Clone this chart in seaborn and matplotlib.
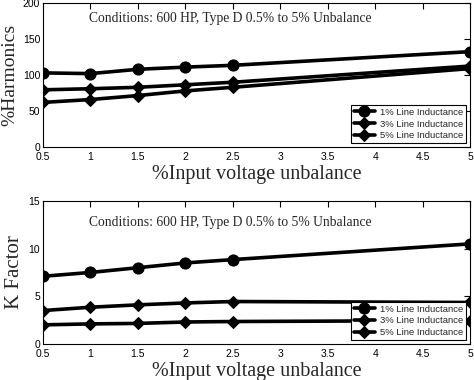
import numpy as np
import pandas as pd
import matplotlib
matplotlib.use('Agg')
import matplotlib.pyplot as plt
import seaborn as sns

# data
unbalance = [0.5, 1, 1.5, 2, 2.5, 5]
labels = ['1% Line Inductance', '3% Line Inductance', '5% Line Inductance']
harm_1 = [103, 102, 108, 111, 113.5, 132.5]
harm_3 = [79.5, 81, 83, 86.5, 90, 112.5]
harm_5 = [62, 66, 71.5, 78, 83, 109]
kf_1 = [7.1, 7.5, 8.0, 8.5, 8.85, 10.5]
kf_3 = [3.5, 3.85, 4.1, 4.3, 4.45, 4.35]
kf_5 = [2.0, 2.1, 2.15, 2.3, 2.35, 2.45]
xticks = [0.5, 1, 1.5, 2, 2.5, 3, 3.5, 4, 4.5, 5]
note = 'Conditions: 600 HP, Type D 0.5% to 5% Unbalance'

sns.set_style('white')
plt.rcParams['font.family'] = ['Liberation Sans', 'DejaVu Sans']

fig = plt.figure(figsize=(4.74, 3.8), dpi=100)
ax1 = fig.add_axes([0.0907, 0.613, 0.901, 0.379])
ax2 = fig.add_axes([0.0907, 0.095, 0.901, 0.376])

markers = ['o', 'D', 'D']
msizes = [8, 6, 6]


def draw(ax, series, ylim, yticks, ylabel, note_y, ysize):
    for vals, lab, m, ms in zip(series, labels, markers, msizes):
        df = pd.DataFrame({'x': unbalance, 'y': vals})
        sns.lineplot(data=df, x='x', y='y', ax=ax, color='black', lw=2.6,
                     marker=m, markersize=ms, markeredgecolor='black', label=lab)
    ax.set_xlim(0.5, 5)
    ax.set_ylim(*ylim)
    ax.set_xticks(xticks)
    ax.set_xticklabels([f'{t:g}' for t in xticks])
    ax.set_yticks(yticks)
    ax.tick_params(direction='in', top=True, right=True, labelsize=7.5,
                   length=4, width=0.8, colors='black')
    ax.tick_params(axis='x', pad=3.5)
    ax.tick_params(axis='y', pad=2)
    for s in ax.spines.values():
        s.set_color('black')
        s.set_linewidth(0.8)
    ax.set_xlabel('%Input voltage unbalance', family='Liberation Serif',
                  fontsize=14.5, labelpad=2)
    ax.set_ylabel(ylabel, family='Liberation Serif', fontsize=ysize, labelpad=3)
    ax.text(0.108, note_y, note, transform=ax.transAxes, family='Liberation Serif',
            fontsize=9.8, va='center', ha='left')
    leg = ax.legend(loc='lower right', fontsize=6.8, frameon=True, fancybox=False,
                    framealpha=1, handlelength=2.2, handletextpad=0.6,
                    borderpad=0.3, labelspacing=0.3, borderaxespad=0.4)
    leg.get_frame().set_edgecolor('black')
    leg.get_frame().set_linewidth(0.8)


draw(ax1, [harm_1, harm_3, harm_5], (0, 200), [0, 50, 100, 150, 200], '%Harmonics', 0.896, 14)
draw(ax2, [kf_1, kf_3, kf_5], (0, 15), [0, 5, 10, 15], 'K Factor', 0.853, 15)

fig.savefig('out.png', dpi=100)
